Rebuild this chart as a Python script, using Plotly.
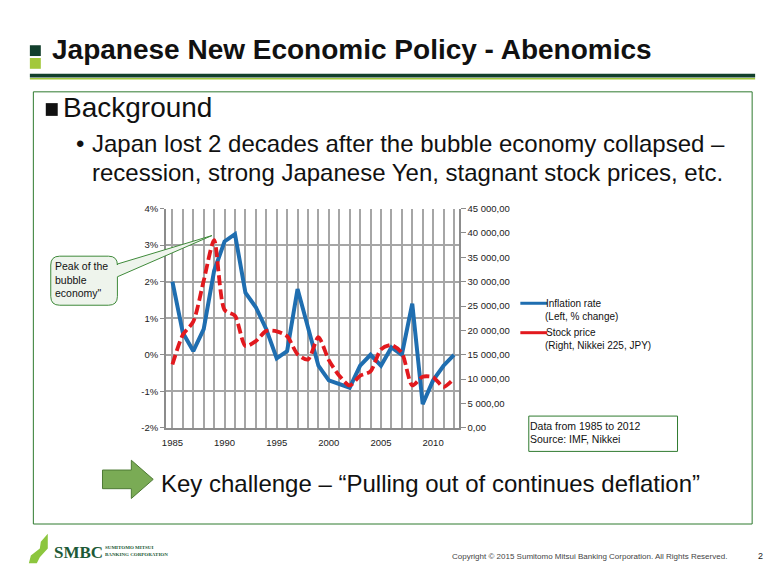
import plotly.graph_objects as go

# ---------------- data ----------------
years = list(range(1985, 2013))
inflation = [2.0, 0.6, 0.1, 0.7, 2.3, 3.1, 3.3, 1.7, 1.3, 0.7, -0.1, 0.1, 1.8, 0.7,
             -0.3, -0.7, -0.8, -0.9, -0.3, 0.0, -0.3, 0.2, 0.0, 1.4, -1.35, -0.7, -0.3, 0.0]
nikkei = [13000, 19100, 21800, 30200, 38500, 24200, 23000, 16800, 17800, 19900, 19800,
          18800, 15100, 14000, 18600, 13900, 10700, 8700, 10700, 11600, 16100, 17000,
          15400, 8700, 10500, 10400, 8400, 10100]
left_tickvals = [-2, -1, 0, 1, 2, 3, 4]
left_ticktext = ["-2%", "-1%", "0%", "1%", "2%", "3%", "4%"]
right_tickvals = [0, 5000, 10000, 15000, 20000, 25000, 30000, 35000, 40000, 45000]
right_ticktext = ["0,00", "5 000,00", "10 000,00", "15 000,00", "20 000,00", "25 000,00",
                  "30 000,00", "35 000,00", "40 000,00", "45 000,00"]
x_ticktext = [str(y) if y % 5 == 0 else "" for y in years]

W, H = 780, 581
FONT = "Liberation Sans, Arial, sans-serif"
BLUE = "#1f6eb0"
RED = "#e2191e"
GREEN_BORDER = "#2f7a2f"


def px(x):
    return x / W


def py(y):
    return 1 - y / H


fig = go.Figure()
fig.add_trace(go.Scatter(x=years, y=inflation, mode="lines", name="Inflation rate",
                         line=dict(color=BLUE, width=4), showlegend=False))
fig.add_trace(go.Scatter(x=years, y=nikkei, mode="lines", name="Stock price", yaxis="y2",
                         line=dict(color=RED, width=3.8, dash="10px,4px", shape="spline",
                                   smoothing=0.7),
                         showlegend=False))

GRID = "#a6a6a6"
fig.update_layout(
    width=W, height=H,
    margin=dict(l=0, r=0, t=0, b=0),
    paper_bgcolor="white", plot_bgcolor="white",
    font=dict(family=FONT, color="#222"),
    showlegend=False,
    xaxis=dict(domain=[px(163), px(457)], range=[1984.4, 2012.45],
               tickvals=years, ticktext=x_ticktext, ticks="outside", ticklen=5,
               tickcolor="rgba(0,0,0,0)",
               showgrid=True, gridcolor=GRID, gridwidth=2,
               showline=True, linecolor="#8c8c8c", linewidth=2,
               tickfont=dict(size=9.5, color="#222"), zeroline=False),
    yaxis=dict(domain=[py(430), py(206.5)], range=[-2, 4],
               tickvals=left_tickvals, ticktext=left_ticktext,
               ticks="outside", ticklen=4, tickcolor="#8c8c8c",
               showgrid=True, gridcolor=GRID, gridwidth=2,
               showline=True, linecolor="#8c8c8c", linewidth=2,
               zeroline=False, tickfont=dict(size=9.5, color="#222")),
    yaxis2=dict(overlaying="y", side="right", range=[0, 45000],
                tickvals=right_tickvals, ticktext=right_ticktext,
                ticks="outside", ticklen=5, tickcolor="#8c8c8c",
                showgrid=False, showline=True, linecolor="#8c8c8c", linewidth=2,
                zeroline=False, tickfont=dict(size=9.5, color="#222")),
)

shapes = []
# title squares
shapes.append(dict(type="rect", xref="paper", yref="paper", x0=px(26), x1=px(37), y0=py(51), y1=py(40),
                   fillcolor="#123f2c", line=dict(width=0)))
shapes.append(dict(type="rect", xref="paper", yref="paper", x0=px(26), x1=px(37), y0=py(64), y1=py(53),
                   fillcolor="#a3c83a", line=dict(width=0)))
# title rule
shapes.append(dict(type="rect", xref="paper", yref="paper", x0=px(26), x1=px(755), y0=py(73), y1=py(69),
                   fillcolor="#123f2c", line=dict(width=0)))
shapes.append(dict(type="rect", xref="paper", yref="paper", x0=px(26), x1=px(755), y0=py(75), y1=py(73.5),
                   fillcolor="#a3c83a", line=dict(width=0)))
# content box
shapes.append(dict(type="rect", xref="paper", yref="paper", x0=px(29.5), x1=px(752), y0=py(528), y1=py(87.5),
                   fillcolor="rgba(0,0,0,0)", line=dict(color=GREEN_BORDER, width=1), layer="below"))
# background bullet square
shapes.append(dict(type="rect", xref="paper", yref="paper", x0=px(42), x1=px(54), y0=py(112), y1=py(99),
                   fillcolor="#111", line=dict(width=0)))

# callout path (rounded box + wedge)
bx0, bx1, by0, by1, r = 47, 114, 255, 305, 9
tip = (209, 234)
pts = [
    f"M {px(bx0 + r)} {py(by0)}",
    f"L {px(bx1 - r)} {py(by0)}",
    f"Q {px(bx1)} {py(by0)} {px(bx1)} {py(by0 + r)}",
    f"L {px(bx1)} {py(263)}",
    f"L {px(tip[0])} {py(tip[1])}",
    f"L {px(bx1)} {py(276)}",
    f"L {px(bx1)} {py(by1 - r)}",
    f"Q {px(bx1)} {py(by1)} {px(bx1 - r)} {py(by1)}",
    f"L {px(bx0 + r)} {py(by1)}",
    f"Q {px(bx0)} {py(by1)} {px(bx0)} {py(by1 - r)}",
    f"L {px(bx0)} {py(by0 + r)}",
    f"Q {px(bx0)} {py(by0)} {px(bx0 + r)} {py(by0)}",
    "Z",
]
shapes.append(dict(type="path", xref="paper", yref="paper", path=" ".join(pts),
                   fillcolor="#eef4ec", line=dict(color="#3f8a3a", width=1)))

# legend symbols
shapes.append(dict(type="line", xref="paper", yref="paper", x0=px(519), x1=px(546), y0=py(303), y1=py(303),
                   line=dict(color=BLUE, width=3)))
shapes.append(dict(type="line", xref="paper", yref="paper", x0=px(519), x1=px(546), y0=py(333), y1=py(333),
                   line=dict(color=RED, width=3)))
# data source box
shapes.append(dict(type="rect", xref="paper", yref="paper", x0=px(527.5), x1=px(677), y0=py(454), y1=py(418),
                   fillcolor="white", line=dict(color=GREEN_BORDER, width=1)))
# arrow
arrow = [(99, 473), (128, 473), (128, 463), (150, 482.5), (128, 502), (128, 492), (99, 492)]
apath = "M " + " L ".join(f"{px(a)} {py(b)}" for a, b in arrow) + " Z"
shapes.append(dict(type="path", xref="paper", yref="paper", path=apath,
                   fillcolor="#7aab55", line=dict(color="#4e7a35", width=1)))
# logo leaf
leaf = [(37, 546), (44, 538), (44, 553), (36, 562), (33, 568), (25, 568), (27, 560), (36, 553)]
lpath = "M " + " L ".join(f"{px(a)} {py(b)}" for a, b in leaf) + " Z"
shapes.append(dict(type="path", xref="paper", yref="paper", path=lpath,
                   fillcolor="#8cc63e", line=dict(width=0)))
fig.update_layout(shapes=shapes)


def txt(x, y, s, size, color="#111", bold=False, family=FONT, xanchor="left"):
    if bold:
        s = f"<b>{s}</b>"
    fig.add_annotation(x=px(x - 4), y=py(y), xref="paper", yref="paper", text=s, showarrow=False,
                       xanchor=xanchor, yanchor="middle", align="left",
                       font=dict(size=size, color=color, family=family))


txt(50, 44, "Japanese New Economic Policy - Abenomics", 28, bold=True)
txt(61, 103, "Background", 28)
txt(74, 140, "•", 24)
txt(90, 140, "Japan lost 2 decades after the bubble economy collapsed –", 24)
txt(90, 170, "recession, strong Japanese Yen, stagnant stock prices, etc.", 24)
fig.add_annotation(x=px(49), y=py(279), xref="paper", yref="paper",
                   text="Peak of the<br>bubble<br>economy\"", showarrow=False,
                   xanchor="left", yanchor="middle", align="left",
                   font=dict(size=10.5, color="#111", family=FONT))
txt(547, 303, "Inflation rate", 10)
txt(546, 316, "(Left, % change)", 10)
txt(547, 333, "Stock price", 10)
txt(546, 346, "(Right, Nikkei 225, JPY)", 10)
txt(531, 428, "Data from 1985 to 2012", 10.5)
txt(531, 441.5, "Source: IMF, Nikkei", 10.5)
txt(160, 487, "Key challenge – “Pulling out of continues deflation”", 24)
txt(52, 557, "SMBC", 17, color="#1d5a37", bold=True, family="Liberation Serif, DejaVu Serif, serif")
fig.add_annotation(x=px(100), y=py(556), xref="paper", yref="paper",
                   text="<b>SUMITOMO MITSUI<br>BANKING CORPORATION</b>", showarrow=False,
                   xanchor="left", yanchor="middle", align="left",
                   font=dict(size=5, color="#1d5a37", family="Liberation Serif, DejaVu Serif, serif"))
txt(452, 561, "Copyright © 2015 Sumitomo Mitsui Banking Corporation. All Rights Reserved.", 8, color="#444")
txt(760, 561, "2", 9, color="#222")

fig.write_html("out.html")
